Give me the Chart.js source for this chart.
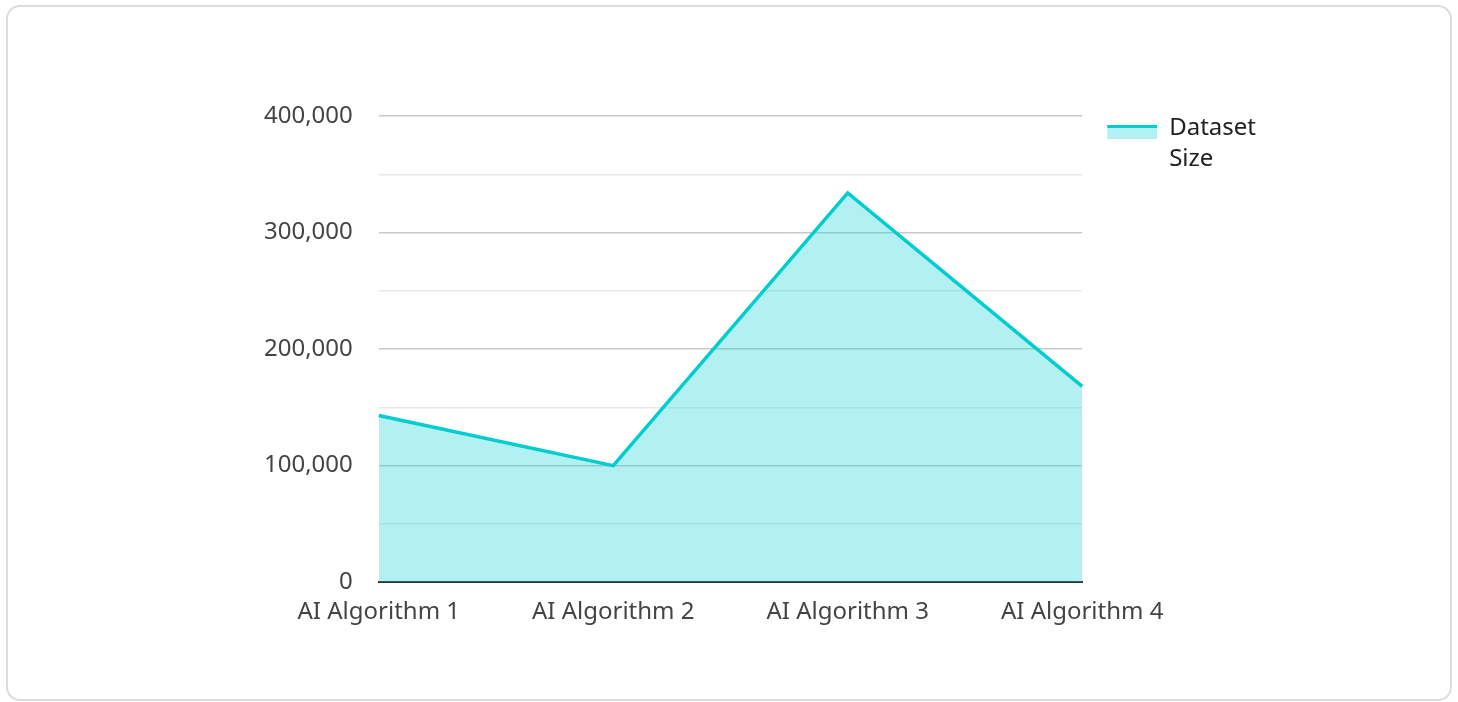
<!DOCTYPE html>
<html>
<head>
<meta charset="utf-8">
<script src="https://cdn.jsdelivr.net/npm/chart.js@4.4.1/dist/chart.umd.min.js"></script>
<style>
    html, body { margin: 0; padding: 0; background: #fff; }
    .card {
        position: absolute;
        left: 6px;
        top: 5px;
        width: 1442px;
        height: 692px;
        border: 2px solid #dcdcdc;
        border-radius: 14px;
    }
    #chart { position: absolute; left: 0; top: 0; }
</style>
</head>
<body>
<div class="card"></div>
<canvas id="chart" width="1458" height="702"></canvas>
<script>
const categories = ['AI Algorithm 1', 'AI Algorithm 2', 'AI Algorithm 3', 'AI Algorithm 4'];
const datasetSize = [143000, 100000, 334000, 168000];
const seriesLabel = 'Dataset Size';
const yMin = 0;
const yMax = 400000;
const yMinorStep = 50000;
const yMajorStep = 100000;

const palette = {
    line: '#00cdd0',
    fill: 'rgba(0, 205, 208, 0.3)',
    majorGrid: '#c9c9c9',
    minorGrid: '#e8e8e8',
    axis: '#333333',
    tick: '#444444',
    legend: '#222222',
};

// legend swatch: line on top of the area fill, with some room on the left
function legendSwatch() {
    const c = document.createElement('canvas');
    c.width = 75;
    c.height = 24;
    const ctx = c.getContext('2d');
    ctx.fillStyle = palette.fill;
    ctx.fillRect(25, 9, 50, 14);
    ctx.fillStyle = palette.line;
    ctx.fillRect(25, 9, 50, 3);
    return c;
}

const swatch = legendSwatch();
const font = { family: '"Noto Sans", sans-serif', size: 24 };

new Chart(document.getElementById('chart'), {
    type: 'line',
    data: {
        labels: categories,
        datasets: [{
            label: seriesLabel,
            data: datasetSize,
            borderColor: palette.line,
            backgroundColor: palette.fill,
            borderWidth: 3.5,
            pointRadius: 0,
            fill: 'origin',
            tension: 0,
        }],
    },
    options: {
        responsive: false,
        animation: false,
        layout: { padding: { left: 238, right: 192, top: 116, bottom: 59 } },
        plugins: {
            tooltip: { enabled: false },
            legend: {
                position: 'right',
                align: 'start',
                labels: {
                    font: { ...font, lineHeight: 1.3 },
                    color: palette.legend,
                    usePointStyle: true,
                    pointStyleWidth: 75,
                    padding: 0,
                    generateLabels(chart) {
                        return Chart.defaults.plugins.legend.labels.generateLabels(chart).map(item => ({
                            ...item,
                            text: item.text.split(' '),
                            pointStyle: swatch,
                        }));
                    },
                },
            },
        },
        scales: {
            x: {
                offset: false,
                grid: { display: false, drawTicks: false },
                border: { display: true, color: palette.axis, width: 2 },
                ticks: { font, color: palette.tick, padding: 16, maxRotation: 0 },
            },
            y: {
                min: yMin,
                max: yMax,
                border: { display: false },
                grid: {
                    drawTicks: false,
                    color: ctx => (ctx.tick && ctx.tick.value % yMajorStep === 0 ? palette.majorGrid : palette.minorGrid),
                    lineWidth: 1.5,
                },
                ticks: {
                    stepSize: yMinorStep,
                    font,
                    color: palette.tick,
                    padding: 26,
                    callback: value => (value % yMajorStep === 0 ? value.toLocaleString('en-US') : ''),
                },
            },
        },
    },
});
</script>
</body>
</html>
